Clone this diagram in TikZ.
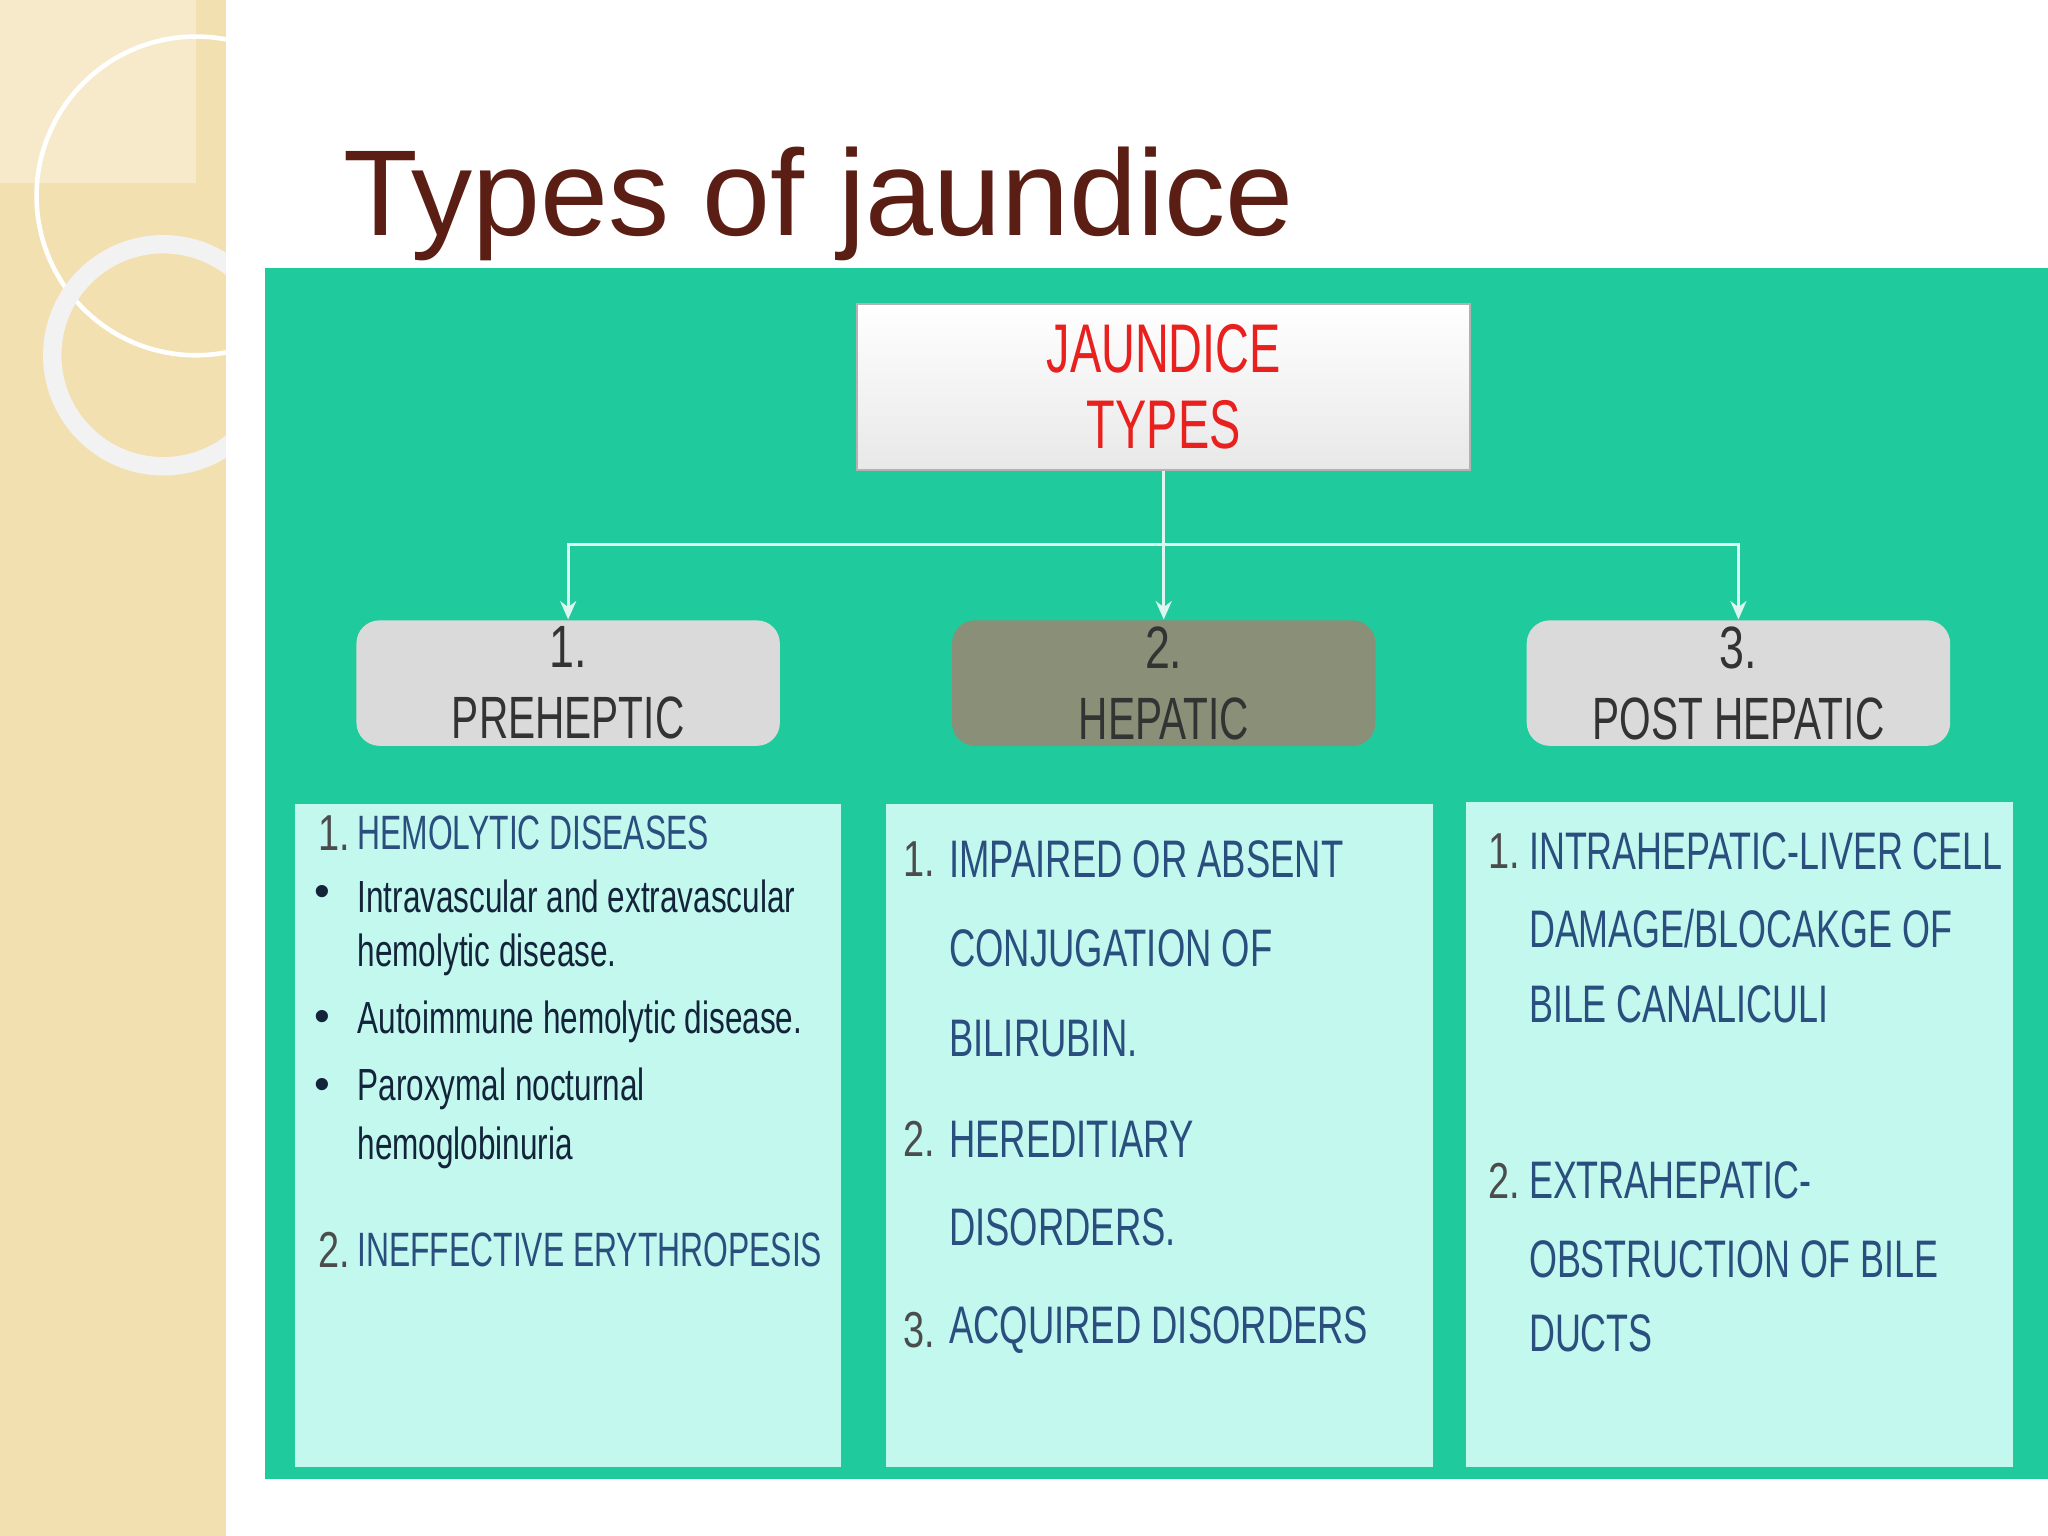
\documentclass[tikz,border=0pt]{standalone}
\usepackage{fontspec}
\setmainfont{Liberation Sans}
\usetikzlibrary{arrows.meta}
\newcommand{\nar}[2][0.68]{\scalebox{#1}[1]{#2}}
\definecolor{beige}{HTML}{F2E0B0}
\definecolor{brownT}{HTML}{5A1E14}
\definecolor{panel}{HTML}{1FCB9C}
\definecolor{lcyan}{HTML}{C2F8EE}
\definecolor{dblue}{HTML}{2A4E7E}
\definecolor{greyb}{HTML}{DADADA}
\definecolor{darkg}{HTML}{8A8F78}
\definecolor{redT}{HTML}{E8201E}
\tikzset{
 catbox/.style={rounded corners=5, minimum width=3.24cm, minimum height=0.96cm, align=center, font=\fontsize{13}{15.5}\selectfont, text=black!80, inner sep=0pt},
 listbox/.style={fill=lcyan, anchor=north west},
 lt/.style={anchor=west, text=dblue, font=\fontsize{11.5}{14}\selectfont, inner sep=0pt},
 lts/.style={lt, font=\fontsize{10.5}{13}\selectfont},
 st/.style={anchor=west, text=black!55!dblue, font=\fontsize{9.8}{12}\selectfont, inner sep=0pt},
 nm/.style={anchor=west, text=black!70, font=\fontsize{11}{14}\selectfont, inner sep=0pt},
 conn/.style={draw=white!85!panel, line width=0.6pt},
 arr/.style={conn, -{Stealth[length=4pt,width=3.5pt]}}
}
\begin{document}
\begin{tikzpicture}[x=0.01cm,y=-0.01cm]
\useasboundingbox (0,0) rectangle (1568,1176);
\fill[white] (0,0) rectangle (1568,1176);
\fill[beige] (0,0) rectangle (173,1176);
\begin{scope}
\clip (0,0) rectangle (173,1176);
\fill[white, opacity=0.35] (0,0) rectangle (150,140);
\draw[white, line width=1pt] (150,150) circle (122);
\draw[white!90!gray, line width=4pt] (125,272) circle (85);
\end{scope}
\node[anchor=base west, text=brownT, font=\fontsize{26.6}{30}\selectfont, inner sep=0pt] at (262,180) {Types of jaundice};
\fill[panel] (203,205) rectangle (1568,1132);
\node[draw=gray!60, top color=white, bottom color=gray!18, minimum width=4.69cm, minimum height=1.27cm, align=center, text=redT, font=\fontsize{15}{16.5}\selectfont, inner sep=0pt] (top) at (891,296) {\nar{JAUNDICE}\\\nar{TYPES}};
\node[catbox, fill=greyb] (c1) at (435,523) {\nar[0.75]{1.}\\\nar{PREHEPTIC}};
\node[catbox, fill=darkg] (c2) at (891,523) {\nar[0.75]{2.}\\\nar{HEPATIC}};
\node[catbox, fill=greyb] (c3) at (1331,523) {\nar[0.75]{3.}\\\nar{POST HEPATIC}};
\coordinate (j) at (891,417);
\draw[conn] (top.south) -- (j);
\draw[arr] (j) -- (c2.north);
\draw[arr] (j) -| (c1.north);
\draw[arr] (j) -| (c3.north);
\node[listbox, minimum width=4.18cm, minimum height=5.07cm] (b1) at (225,615) {};
\node[listbox, minimum width=4.18cm, minimum height=5.07cm] (b2) at (678,615) {};
\node[listbox, minimum width=4.18cm, minimum height=5.09cm] (b3) at (1122,613) {};
% box 1
\node[nm] at (243,638) {\nar[0.75]{1.}};
\node[lts] at (273,638) {\nar[0.66]{HEMOLYTIC DISEASES}};
\foreach \y in {686,782,834} \node[st] at (240,\y) {•};
\node[st] at (273,686) {\nar[0.7]{Intravascular and extravascular}};
\node[st] at (273,731) {\nar[0.7]{hemolytic disease.}};
\node[st] at (273,782) {\nar[0.7]{Autoimmune hemolytic disease.}};
\node[st] at (273,834) {\nar[0.7]{Paroxymal nocturnal}};
\node[st] at (273,879) {\nar[0.7]{hemoglobinuria}};
\node[nm] at (243,957) {\nar[0.75]{2.}};
\node[lts] at (273,957) {\nar[0.66]{INEFFECTIVE ERYTHROPESIS}};
% box 2
\node[nm] at (691,658) {\nar[0.75]{1.}};
\node[lt] at (726,658) {\nar[0.69]{IMPAIRED OR ABSENT}};
\node[lt] at (726,726) {\nar[0.69]{CONJUGATION OF}};
\node[lt] at (726,795) {\nar[0.69]{BILIRUBIN.}};
\node[nm] at (691,872) {\nar[0.75]{2.}};
\node[lt] at (726,872) {\nar[0.69]{HEREDITIARY}};
\node[lt] at (726,940) {\nar[0.69]{DISORDERS.}};
\node[nm] at (691,1018) {\nar[0.75]{3.}};
\node[lt] at (726,1018) {\nar[0.69]{ACQUIRED DISORDERS}};
% box 3
\node[nm] at (1139,652) {\nar[0.75]{1.}};
\node[lt] at (1170,652) {\nar[0.68]{INTRAHEPATIC-LIVER CELL}};
\node[lt] at (1170,711) {\nar[0.68]{DAMAGE/BLOCAKGE OF}};
\node[lt] at (1170,769) {\nar[0.68]{BILE CANALICULI}};
\node[nm] at (1139,904) {\nar[0.75]{2.}};
\node[lt] at (1170,904) {\nar[0.68]{EXTRAHEPATIC-}};
\node[lt] at (1170,964) {\nar[0.68]{OBSTRUCTION OF BILE}};
\node[lt] at (1170,1021) {\nar[0.68]{DUCTS}};
\end{tikzpicture}
\end{document}
